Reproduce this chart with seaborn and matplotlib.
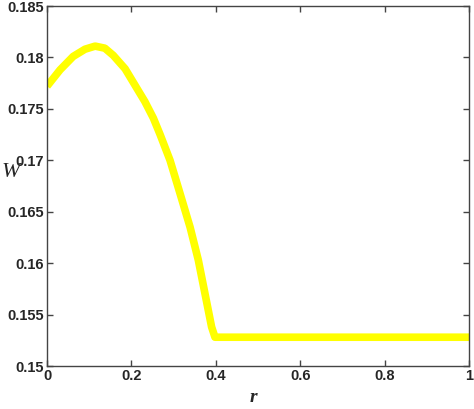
import pandas as pd
import seaborn as sns
import matplotlib.pyplot as plt

# values
r_vals = [0.0, 0.031, 0.062, 0.090, 0.114, 0.137, 0.157, 0.185, 0.2085, 0.232,
          0.252, 0.268, 0.284, 0.2915, 0.315, 0.339, 0.3585, 0.374, 0.390, 0.398, 1.0]
w_vals = [0.1772, 0.1788, 0.1801, 0.1808, 0.1811, 0.1809, 0.1802, 0.1789, 0.1773,
          0.1757, 0.1741, 0.1725, 0.1708, 0.1700, 0.1668, 0.1635, 0.1603, 0.1571,
          0.1538, 0.1528, 0.1528]
x_ticks = [0, 0.2, 0.4, 0.6, 0.8, 1]
x_labels = ['0', '0.2', '0.4', '0.6', '0.8', '1']
y_ticks = [0.15, 0.155, 0.16, 0.165, 0.17, 0.175, 0.18, 0.185]
y_labels = ['0.15', '0.155', '0.16', '0.165', '0.17', '0.175', '0.18', '0.185']

df = pd.DataFrame({'r': r_vals, 'W': w_vals})

sns.set_style('ticks')
plt.rcParams['font.family'] = ['Liberation Sans', 'DejaVu Sans']

fig = plt.figure(figsize=(4.74, 4.09), dpi=100)
ax = fig.add_axes([0.0992, 0.1051, 0.8903, 0.8802])

sns.lineplot(data=df, x='r', y='W', ax=ax, color='#ffff00', linewidth=5.5,
             solid_joinstyle='round', solid_capstyle='butt')

ax.set_xlim(0, 1)
ax.set_ylim(0.15, 0.185)
ax.set_xticks(x_ticks)
ax.set_xticklabels(x_labels)
ax.set_yticks(y_ticks)
ax.set_yticklabels(y_labels)
ax.tick_params(direction='in', length=4, width=1, color='#444444',
               top=True, right=True, labelsize=10.5, pad=2)
for lab in ax.get_xticklabels() + ax.get_yticklabels():
    lab.set_fontweight('bold')
for side in ['left', 'right', 'top', 'bottom']:
    ax.spines[side].set_visible(True)
    ax.spines[side].set_color('#444444')
    ax.spines[side].set_linewidth(1)

ax.set_xlabel('r', fontsize=14, fontstyle='italic', fontweight='bold',
              family=['Liberation Serif', 'DejaVu Serif'])
ax.xaxis.set_label_coords(0.488, -0.065)
ax.set_ylabel('W', fontsize=16, fontstyle='italic', rotation=0,
              family=['Liberation Serif', 'DejaVu Serif'])
ax.yaxis.set_label_coords(-0.085, 0.51)

fig.savefig('out.png', dpi=100)
